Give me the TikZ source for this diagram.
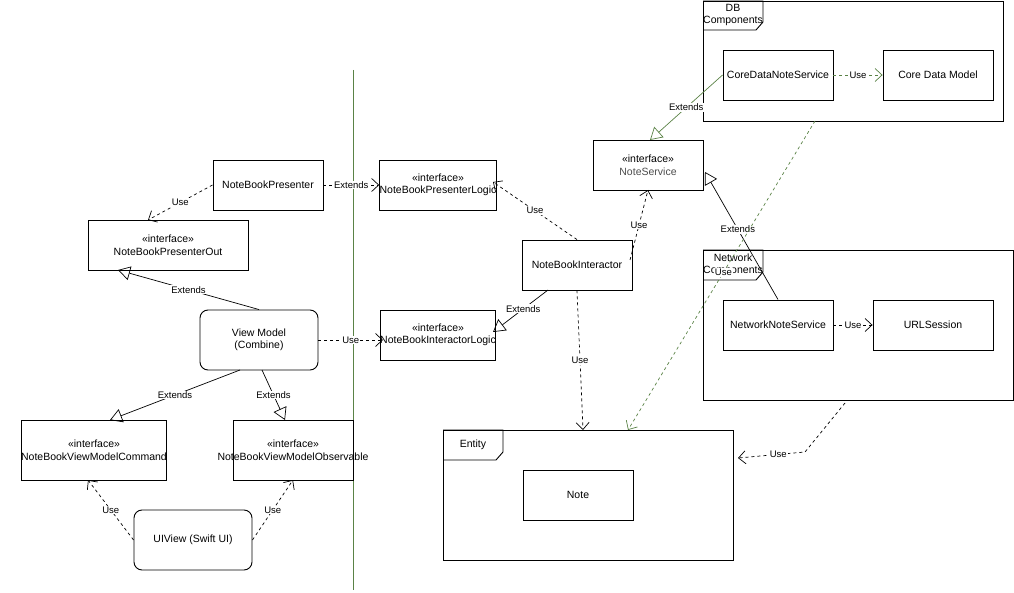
\documentclass[tikz,border=0pt]{standalone}
\usepackage{fontspec}
\setmainfont{Liberation Sans}
\usetikzlibrary{arrows.meta}
\definecolor{gr}{RGB}{90,130,70}
\begin{document}
\begin{tikzpicture}[x=1pt,y=-1pt,font=\fontsize{10.5}{12.5}\selectfont,
 box/.style={draw,line width=0.9pt,minimum width=110pt,minimum height=50pt,align=center,inner sep=0pt},
 rbox/.style={box,rounded corners=8pt,minimum width=118pt,minimum height=60pt},
 frame/.style={draw,line width=0.9pt,anchor=north west,inner sep=0},
 ext/.style={-{Triangle[open,length=12pt,width=14pt]},line width=0.7pt},
 use/.style={-{Straight Barb[length=7pt,width=13pt]},dashed,line width=0.7pt},
 lbl/.style={fill=white,inner sep=1pt,font=\fontsize{9.5}{11}\selectfont}]
\useasboundingbox (0,0) rectangle (1014,593);
\draw[gr,line width=0.6pt] (353,70) -- (353,590);
% frames
\node[frame,minimum width=300pt,minimum height=120pt] (db) at (703,1) {};
\draw[line width=0.9pt] (703,1) -- (763,1) -- (763,22) -- (756,30) -- (703,30);
\node[align=center,inner sep=0] (dbl) at (733,15) {DB\\Components};
\node[frame,minimum width=310pt,minimum height=150pt] (net) at (703,250) {};
\draw[line width=0.9pt] (703,250) -- (763,250) -- (763,272) -- (756,280) -- (703,280);
\node[align=center,inner sep=0] (netl) at (733,265) {Network\\Components};
\node[frame,minimum width=290pt,minimum height=130pt] (ent) at (443,430) {};
\draw[line width=0.9pt] (443,430) -- (503,430) -- (503,452) -- (496,460) -- (443,460);
\node (entl) at (473,445) {Entity};
% boxes
\node[box] (pres) at (268,185) {NoteBookPresenter};
\node[box,minimum width=160pt] (pout) at (168,245) {«interface»\\NoteBookPresenterOut};
\node[rbox] (vm) at (259,340) {View Model\\(Combine)};
\node[box] (plog) at (438,185) {«interface»\\NoteBookPresenterLogic};
\node[box] (ilog) at (438,335) {«interface»\\NoteBookInteractorLogic};
\node[box] (int) at (577,265) {NoteBookInteractor};
\node[box] (ns) at (648,165) {«interface»\\{\color{black!70}NoteService}};
\node[box] (cdns) at (778,75) {CoreDataNoteService};
\node[box] (cdm) at (938,75) {Core Data Model};
\node[box] (nns) at (778,325) {NetworkNoteService};
\node[box,minimum width=120pt] (url) at (933,325) {URLSession};
\node[box] (note) at (578,495) {Note};
\node[box,minimum width=142pt,minimum height=60pt] (cmd) at (94,450) {«interface»\\NoteBookViewModelCommand};
\node[draw,line width=0.9pt,minimum width=120pt,minimum height=60pt] (obs) at (293,450) {};
\node[align=center] (obst) at (293,450) {«interface»\\NoteBookViewModelObservable};
\node[rbox] (ui) at (193,540) {UIView (Swift UI)};
% edges
\draw[use] (pres.west) -- node[lbl]{Use} (148,220) coordinate (c1);
\draw[use] (pres.east) -- node[lbl]{Extends} (plog.west);
\draw[use] (int.north) -- node[lbl]{Use} (493,182) coordinate (c2);
\draw[use] (630,260) coordinate (c3) -- node[lbl]{Use} (648,190) coordinate (c4);
\draw[ext] (548,290) coordinate (c5) -- node[lbl,pos=0.45]{Extends} (493,332) coordinate (c6);
\draw[use] (int.south) -- node[lbl]{Use} (583,430) coordinate (c7);
\draw[ext] (vm.north) -- node[lbl]{Extends} (118,270) coordinate (c8);
\draw[use] (vm.east) -- node[lbl]{Use} (383,340) coordinate (c9);
\draw[ext] (240,370) coordinate (c10) -- node[lbl]{Extends} (110,420) coordinate (c11);
\draw[ext] (262,370) coordinate (c12) -- node[lbl]{Extends} (285,420) coordinate (c13);
\draw[use] (ui.west) -- node[lbl]{Use} (88,480) coordinate (c14);
\draw[use] (ui.east) -- node[lbl]{Use} (293,480) coordinate (c15);
\draw[ext,gr] (cdns.west) -- node[lbl,text=black]{Extends} (650,140) coordinate (c16);
\draw[use,gr] (cdns.east) -- node[lbl,text=black]{Use} (cdm.west);
\draw[ext] (nns.north) -- node[lbl,pos=0.55]{Extends} (705,172) coordinate (c17);
\draw[use] (nns.east) -- node[lbl]{Use} (url.west);
\draw[use,gr] (815,121) coordinate (c18) -- node[lbl,pos=0.49,text=black]{Use} (628,430) coordinate (c19);
\draw[use] (845,403) coordinate (c20) -- (805,452) -- node[lbl,pos=0.4]{Use} (738,458) coordinate (c21);
\end{tikzpicture}
\end{document}
